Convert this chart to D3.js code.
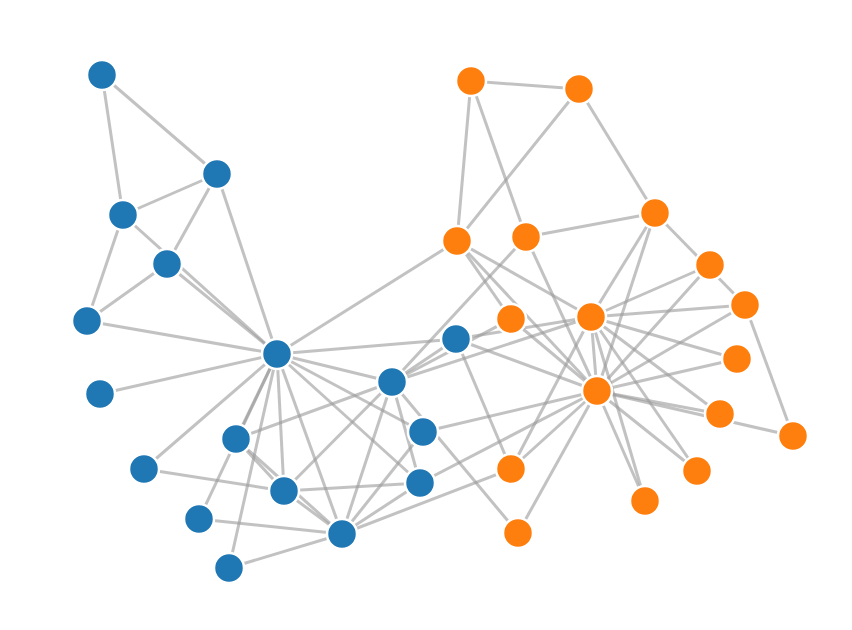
<!DOCTYPE html>
<html>
<head>
<meta charset="utf-8">
<title>Karate club network</title>
<script src="https://cdn.jsdelivr.net/npm/d3@7"></script>
<style>
  body { margin: 0; background: #fff; }
  svg { display: block; }
</style>
</head>
<body>
<div id="chart"></div>
<script>
// club membership of each member (0 = Mr. Hi, 1 = Officer)
var clubs = ["Mr. Hi", "Officer"];
var memberClub = [0,0,0,0,0,0,0,0,0,1,0,0,0,0,1,1,0,0,1,0,1,0,1,1,1,1,1,1,1,1,1,1,1,1];

// layout coordinates (centred on 0,0)
var layoutX = [-150,-85,-35,-143,-340,-210,-304,-191,29,91,-260,-327,-283,-7,283,310,-325,-228,293,-4,270,-198,218,228,44,152,366,99,84,318,84,30,164,170];
var layoutY = [38,218,66,175,5,-142,-101,123,23,217,-52,78,153,167,-51,43,-241,203,98,116,155,252,185,-103,-235,-227,120,-79,3,-11,153,-75,1,75];

// friendships (source, target)
var edgeSource = [0,0,0,0,0,0,0,0,0,0,0,0,0,0,0,0,1,1,1,1,1,1,1,1,2,2,2,2,2,2,2,2,3,3,3,4,4,5,5,5,6,8,8,8,9,13,14,14,15,15,18,18,19,20,20,22,22,23,23,23,23,23,24,24,24,25,26,26,27,28,28,29,29,30,30,31,31,32];
var edgeTarget = [1,2,3,4,5,6,7,8,10,11,12,13,17,19,21,31,2,3,7,13,17,19,21,30,3,7,8,9,13,27,28,32,7,12,13,6,10,6,10,16,16,30,32,33,33,33,32,33,32,33,32,33,33,32,33,32,33,25,27,29,32,33,25,27,31,31,29,33,33,31,33,32,33,32,33,32,33,33];

var width = 852, height = 630;
var clubColors = ["#1f77b4", "#ff7f0e"];

var x = d3.scaleLinear().domain([-426, 426]).range([1, width + 1]);
var y = d3.scaleLinear().domain([-315, 315]).range([1, height + 1]);
var color = d3.scaleOrdinal().domain([0, 1]).range(clubColors);

var nodes = memberClub.map(function (c, i) {
	return { id: i, club: c, x: layoutX[i], y: layoutY[i] };
});
var links = edgeSource.map(function (s, i) {
	return { source: nodes[s], target: nodes[edgeTarget[i]] };
});

var svg = d3.select("#chart").append("svg")
	.attr("width", width)
	.attr("height", height);

svg.append("g")
	.attr("stroke", "#999")
	.attr("stroke-opacity", 0.6)
	.attr("stroke-width", 3)
	.selectAll("line")
	.data(links)
	.join("line")
	.attr("x1", function (d) { return x(d.source.x); })
	.attr("y1", function (d) { return y(d.source.y); })
	.attr("x2", function (d) { return x(d.target.x); })
	.attr("y2", function (d) { return y(d.target.y); });

svg.append("g")
	.attr("stroke", "#fff")
	.attr("stroke-width", 2.5)
	.selectAll("circle")
	.data(nodes)
	.join("circle")
	.attr("cx", function (d) { return x(d.x); })
	.attr("cy", function (d) { return y(d.y); })
	.attr("r", 15)
	.attr("fill", function (d) { return color(d.club); })
	.append("title")
	.text(function (d) { return d.id + " (" + clubs[d.club] + ")"; });
</script>
</body>
</html>
